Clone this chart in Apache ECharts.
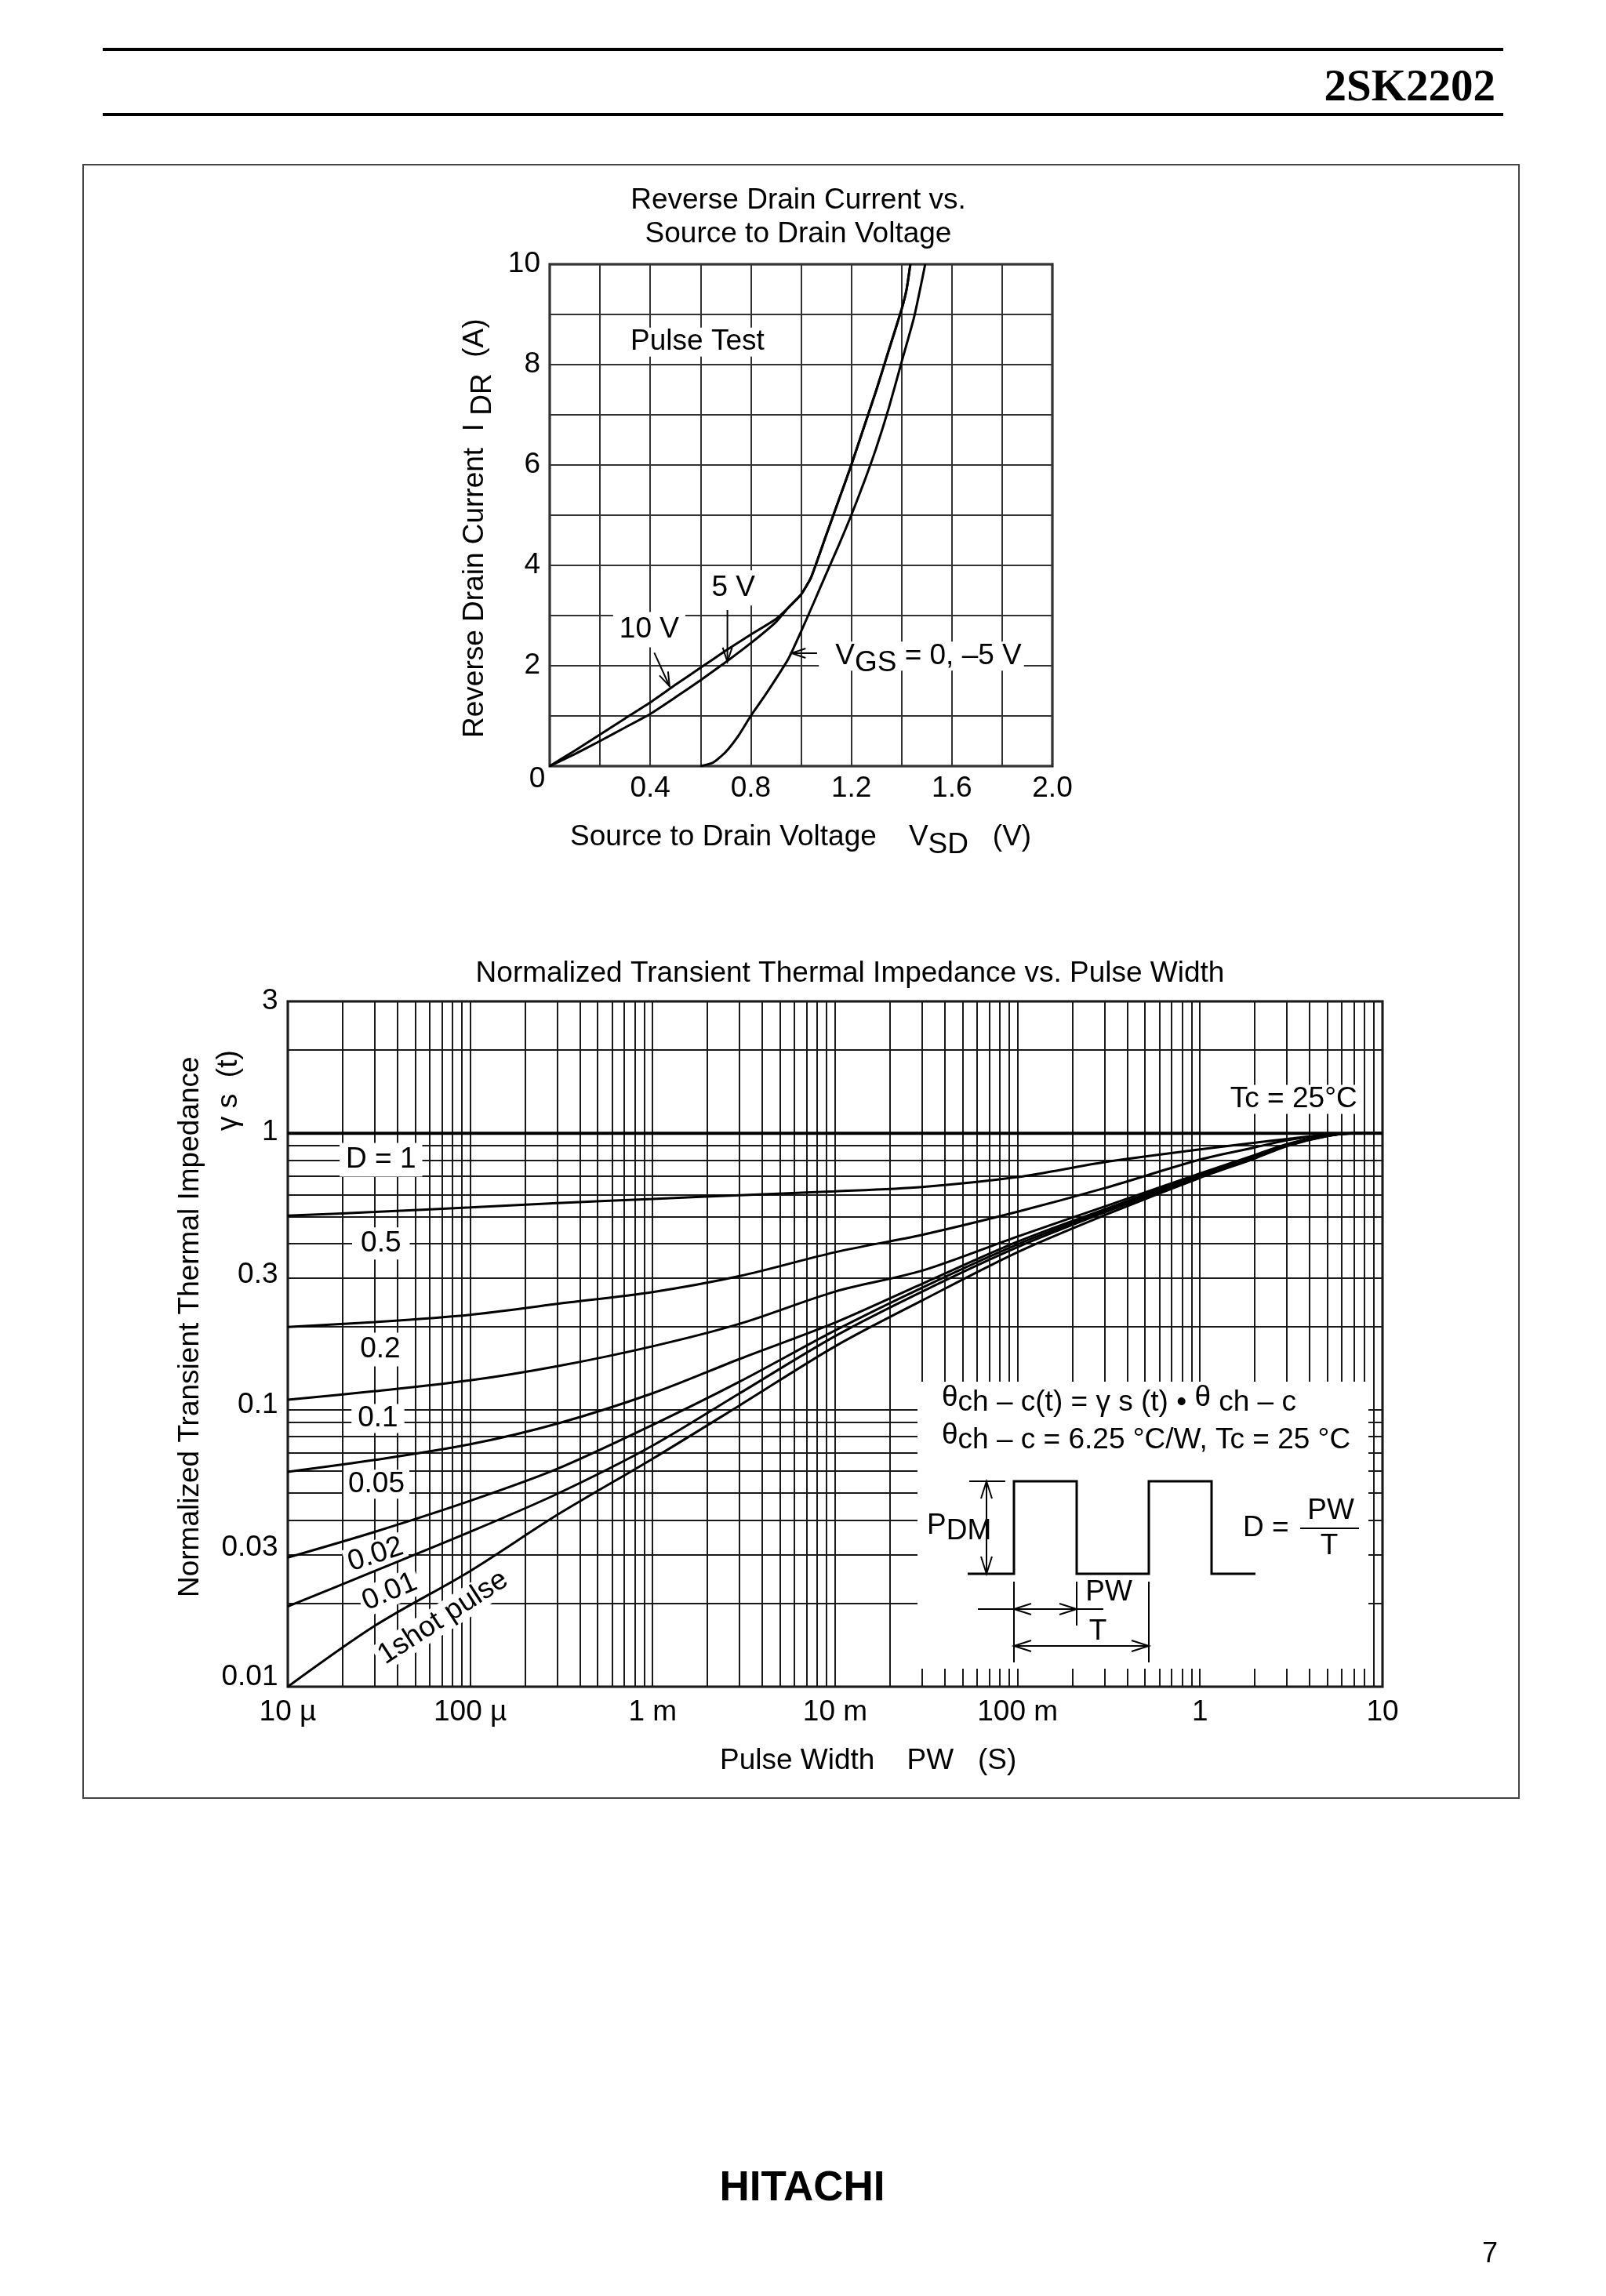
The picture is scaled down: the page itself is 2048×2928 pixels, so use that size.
<!DOCTYPE html>
<html><head><meta charset="utf-8">
<script src="https://cdn.jsdelivr.net/npm/echarts@6/dist/echarts.min.js"></script>
<style>html,body{margin:0;padding:0;background:#fff}#c{width:2048px;height:2928px}</style>
</head><body><div id="c"></div>
<script>
// ===== Chart 1: Reverse Drain Current vs. Source to Drain Voltage =====
const vsd10 = [0, 0.1, 0.2, 0.3, 0.4, 0.5, 0.6, 0.7, 0.8, 0.9, 0.95, 1.0, 1.04, 1.1, 1.15, 1.2, 1.25, 1.3, 1.35, 1.4, 1.42, 1.435];
const idr10 = [0, 0.31, 0.63, 0.95, 1.27, 1.62, 1.96, 2.3, 2.62, 2.93, 3.16, 3.42, 3.76, 4.6, 5.3, 6.0, 6.75, 7.5, 8.3, 9.1, 9.5, 10];
const vsd5  = [0, 0.1, 0.2, 0.3, 0.4, 0.5, 0.6, 0.7, 0.8, 0.9, 0.95, 1.0, 1.04, 1.1, 1.15, 1.2, 1.25, 1.3, 1.35, 1.4, 1.42, 1.435];
const idr5  = [0, 0.24, 0.5, 0.77, 1.04, 1.37, 1.71, 2.07, 2.45, 2.87, 3.16, 3.42, 3.76, 4.6, 5.3, 6.0, 6.75, 7.5, 8.3, 9.1, 9.5, 10];
const vsd0  = [0.6, 0.65, 0.7, 0.75, 0.8, 0.85, 0.9, 0.95, 1.0, 1.05, 1.1, 1.15, 1.2, 1.25, 1.3, 1.35, 1.4, 1.45, 1.494];
const idr0  = [0, 0.07, 0.28, 0.6, 1.0, 1.36, 1.74, 2.14, 2.68, 3.25, 3.83, 4.4, 5.0, 5.65, 6.35, 7.15, 8.05, 8.95, 10];
const vsdTicks = [0.4, 0.8, 1.2, 1.6, 2.0];
const vsdTickLabels = ['0.4', '0.8', '1.2', '1.6', '2.0'];
const idrTicks = [2, 4, 6, 8, 10];
const idrTickLabels = ['2', '4', '6', '8', '10'];

// ===== Chart 2: Normalized Transient Thermal Impedance vs. Pulse Width =====
const pw     = [1e-5, 3e-5, 1e-4, 3e-4, 1e-3, 3e-3, 1e-2, 3e-2, 0.1, 0.3, 1, 2, 3, 5, 7, 10];
const gD1    = [1, 1];
const pwD1   = [1e-5, 10];
const gD05   = [0.504, 0.52, 0.54, 0.56, 0.579, 0.598, 0.617, 0.64, 0.695, 0.787, 0.875, 0.925, 0.955, 0.99, 1, 1];
const gD02   = [0.1995, 0.208, 0.221, 0.242, 0.267, 0.305, 0.372, 0.43, 0.521, 0.634, 0.804, 0.89, 0.945, 0.99, 1, 1];
const gD01   = [0.109, 0.117, 0.128, 0.144, 0.17, 0.205, 0.268, 0.319, 0.424, 0.544, 0.717, 0.835, 0.915, 0.985, 1, 1];
const gD005  = [0.0598, 0.066, 0.0752, 0.0893, 0.115, 0.153, 0.207, 0.286, 0.406, 0.532, 0.709, 0.828, 0.912, 0.983, 1, 1];
const gD002  = [0.0293, 0.0363, 0.047, 0.0613, 0.0884, 0.1267, 0.194, 0.277, 0.397, 0.524, 0.703, 0.823, 0.908, 0.981, 1, 1];
const gD001  = [0.0195, 0.0262, 0.0363, 0.0498, 0.0744, 0.115, 0.185, 0.268, 0.388, 0.518, 0.698, 0.818, 0.905, 0.98, 1, 1];
const g1shot = [0.01, 0.0166, 0.0262, 0.0418, 0.0667, 0.104, 0.17, 0.249, 0.372, 0.506, 0.691, 0.812, 0.9, 0.978, 1, 1];
const pwTickVals   = [1e-5, 1e-4, 1e-3, 1e-2, 1e-1, 1, 10];
const pwTickLabels = ['10 µ', '100 µ', '1 m', '10 m', '100 m', '1', '10'];
const gTickVals    = [0.01, 0.03, 0.1, 0.3, 1, 3];
const gTickLabels  = ['0.01', '0.03', '0.1', '0.3', '1', '3'];

// log grid-line values (1..9 per decade)
const pwGrid = []; for (let e = -5; e <= 0; e++) for (let m = 1; m <= 9; m++) pwGrid.push(m * Math.pow(10, e)); pwGrid.push(10);
const gGrid = []; for (let e = -2; e <= -1; e++) for (let m = 1; m <= 9; m++) gGrid.push(m * Math.pow(10, e)); gGrid.push(1, 2, 3);

// ===== styling / layout =====
const FONT = '"Liberation Sans", Arial, Helvetica, sans-serif';
const SERIF = '"Liberation Serif", "Times New Roman", serif';
const FS = 37;
const gTickNudge = [-12, -9, -6, -4, -2, 0]; // vertical label nudges (px), as printed in the original
const LRICH = {
  n: {fontSize: FS, fontFamily: FONT, color: '#000', lineHeight: FS},
  s: {fontSize: FS, fontFamily: FONT, color: '#000', lineHeight: FS, padding: [18, 0, 0, 0]}
};
const GRICH = {
  n: {fontSize: FS, fontFamily: FONT, fill: '#000'},
  s: {fontSize: FS, fontFamily: FONT, fill: '#000', padding: [20, 0, 0, 0]},
  d: {fontSize: FS, fontFamily: FONT, fill: '#000', padding: [14, 0, 0, 0]},
  th: {fontSize: FS, fontFamily: FONT, fill: '#000', padding: [0, 0, 12, 0]},
  g: {fontSize: FS, fontFamily: FONT, fill: '#000'}
};

const topNotes = [
  {text: 'Pulse Test', at: [0.588, 8.45], pad: [0, 6, 0, 6]},
  {text: '10 V', at: [0.396, 2.72], pad: [4, 8, 4, 8]},
  {text: '5 V', at: [0.731, 3.55], pad: [4, 8, 4, 8]},
  {text: '{n|V}{s|GS}{n| = 0, –5 V}', at: [1.479, 2.19], pad: [0, 3, 0, 21]},
  {text: '0', at: [-0.05, -0.26], pad: 0, nobg: true}
];
const topArrows = [
  [0.416, 2.26, 0.477, 1.59],
  [0.707, 3.11, 0.707, 2.08],
  [1.064, 2.25, 0.962, 2.25]
];
const gNotes = [
  {text: 'D = 1', at: [3.24e-5, 0.803], pad: [3, 8, 3, 8]},
  {text: '0.5', at: [3.24e-5, 0.40], pad: [2, 11, 2, 11]},
  {text: '0.2', at: [3.21e-5, 0.1656], pad: [3, 8, 3, 8]},
  {text: '0.1', at: [3.12e-5, 0.0932], pad: [0, 8, 0, 8]},
  {text: '0.05', at: [3.06e-5, 0.0539], pad: [0, 6, 0, 6]},
  {text: '0.02', at: [3.03e-5, 0.0300], pad: [0, 4, 0, 4], rot: 18},
  {text: '0.01', at: [3.62e-5, 0.0220], pad: [0, 4, 0, 4], rot: 23},
  {text: '1shot pulse', at: [7.1e-5, 0.01778], pad: [0, 4, 0, 4], rot: 33},
  {text: 'Tc = 25°C', at: [3.26, 1.327], pad: [0, 4, 0, 4]}
];

function pairs(xs, ys) { return xs.map((x, i) => [x, ys[i]]); }
function curve(name, xi, xs, ys, w, sm) {
  return {type: 'line', name, xAxisIndex: xi, yAxisIndex: xi, data: pairs(xs, ys), symbol: 'none',
    smooth: sm, lineStyle: {color: '#000', width: w}, z: 10, silent: true, emphasis: {disabled: true}};
}
const HIDDEN = {color: 'rgba(0,0,0,0)', opacity: 1};
function noteSeries(xi, notes) {
  return {type: 'scatter', xAxisIndex: xi, yAxisIndex: xi, symbolSize: 1, clip: false, z: 8, silent: true,
    itemStyle: HIDDEN, emphasis: {disabled: true},
    data: notes.map(n => ({value: n.at, label: {
      show: true, position: 'inside', formatter: n.text, rotate: n.rot || 0, opacity: 1,
      fontSize: FS, fontFamily: FONT, color: '#000', lineHeight: FS,
      backgroundColor: n.nobg ? 'transparent' : '#fff', padding: n.pad, rich: LRICH
    }}))};
}
function tickSeries(vals, labels, toPoint, pos, dist, nudges) {
  return {type: 'scatter', xAxisIndex: 1, yAxisIndex: 1, symbolSize: 1, clip: false, z: 8, silent: true,
    itemStyle: HIDDEN, emphasis: {disabled: true},
    data: vals.map((v, i) => ({value: toPoint(v), label: {offset: [0, nudges ? nudges[i] : 0]}})),
    label: {show: true, position: pos, distance: dist, opacity: 1, formatter: p => labels[p.dataIndex],
      fontSize: FS, fontFamily: FONT, color: '#000', lineHeight: FS}};
}
function gridLines(vals, vertical) {
  return {type: 'custom', xAxisIndex: 1, yAxisIndex: 1, z: 1, silent: true,
    data: vals.map(v => vertical ? [v, 1] : [1e-3, v]),
    renderItem(params, api) {
      let a, b;
      if (vertical) { const x = api.value(0); a = api.coord([x, 0.01]); b = api.coord([x, 3]); }
      else { const y = api.value(1); a = api.coord([1e-5, y]); b = api.coord([10, y]); }
      return {type: 'line', shape: {x1: Math.round(a[0]), y1: Math.round(a[1]), x2: Math.round(b[0]), y2: Math.round(b[1])},
        style: {stroke: '#1a1a1a', lineWidth: 2}};
    }};
}
const arrowSeries = {type: 'custom', xAxisIndex: 0, yAxisIndex: 0, z: 12, silent: true, clip: false,
  data: topArrows,
  renderItem(params, api) {
    const a = api.coord([api.value(0), api.value(1)]);
    const b = api.coord([api.value(2), api.value(3)]);
    const dx = b[0] - a[0], dy = b[1] - a[1], L = Math.hypot(dx, dy), ux = dx / L, uy = dy / L;
    const hl = 18, hw = 6;
    const p1 = [b[0] - ux * hl - uy * hw, b[1] - uy * hl + ux * hw];
    const p2 = [b[0] - ux * hl + uy * hw, b[1] - uy * hl - ux * hw];
    return {type: 'group', children: [
      {type: 'line', shape: {x1: a[0], y1: a[1], x2: b[0], y2: b[1]}, style: {stroke: '#000', lineWidth: 2}},
      {type: 'polyline', shape: {points: [p1, b, p2]}, style: {stroke: '#000', lineWidth: 2, fill: null}}
    ]};
  }};

// ===== page graphics =====
function txt(x, y, text, o = {}) {
  return {type: 'text', x, y, rotation: o.rot || 0, z: o.z || 50, silent: true,
    style: {text, fontSize: o.size || FS, fontFamily: o.family || FONT, fontWeight: o.weight || 'normal', fill: '#000',
      align: o.align || 'center', textAlign: o.align || 'center', verticalAlign: 'middle', textVerticalAlign: 'middle',
      rich: o.rich}};
}
function seg(x1, y1, x2, y2, w, z) {
  return {type: 'line', z: z || 6, silent: true, shape: {x1, y1, x2, y2}, style: {stroke: '#000', lineWidth: w}};
}
function chev(tx, ty, ux, uy) {
  const hl = 22, hw = 7;
  return {type: 'polyline', z: 6, silent: true,
    shape: {points: [[tx - ux * hl - uy * hw, ty - uy * hl + ux * hw], [tx, ty], [tx - ux * hl + uy * hw, ty - uy * hl - ux * hw]]},
    style: {stroke: '#000', lineWidth: 2, fill: null}};
}
const graphics = [
  {type: 'rect', z: 0, silent: true, shape: {x: 106, y: 210, width: 1831, height: 2083}, style: {fill: 'none', stroke: '#444', lineWidth: 2}},
  seg(131, 63, 1917, 63, 4), seg(131, 146, 1917, 146, 4),
  txt(1907, 113, '2SK2202', {align: 'right', size: 57, weight: 'bold', family: SERIF}),
  txt(1023, 2791, 'HITACHI', {size: 53, weight: 'bold'}),
  txt(1900, 2875, '7', {size: 36}),
  // chart 1 texts
  txt(1018, 256, 'Reverse Drain Current vs.'),
  txt(1018, 299, 'Source to Drain Voltage'),
  txt(606, 941, '{n|Reverse Drain Current  I }{s|DR}{n|  (A)}', {align: 'left', rot: Math.PI / 2, rich: GRICH}),
  txt(727, 1068, '{n|Source to Drain Voltage    V}{s|SD}{n|   (V)}', {align: 'left', rich: GRICH}),
  // chart 2 texts
  txt(1084, 1242, 'Normalized Transient Thermal Impedance vs. Pulse Width'),
  txt(243, 2037, 'Normalized Transient Thermal Impedance', {align: 'left', rot: Math.PI / 2}),
  txt(292, 1442, 'γ s  (t)', {align: 'left', rot: Math.PI / 2}),
  txt(918, 2246, 'Pulse Width    PW   (S)', {align: 'left'}),
  // inset box
  {type: 'rect', z: 5, silent: true, shape: {x: 1170, y: 1762, width: 575, height: 366}, style: {fill: '#fff', stroke: null}},
  txt(1201, 1789, '{th|θ}{n|ch – c(t) = }{g|γ}{n| s (t) • }{th|θ}{n| ch – c}', {align: 'left', rich: GRICH, z: 7}),
  txt(1201, 1837, '{th|θ}{n|ch – c = 6.25 °C/W, Tc = 25 °C}', {align: 'left', rich: GRICH, z: 7}),
  {type: 'polyline', z: 6, silent: true, shape: {points: [[1234, 2007], [1293, 2007], [1293, 1889], [1373, 1889], [1373, 2007], [1465, 2007], [1465, 1889], [1545, 1889], [1545, 2007], [1601, 2007]]},
    style: {stroke: '#000', lineWidth: 3, fill: null}},
  seg(1236, 1889, 1282, 1889, 2), seg(1258, 1889, 1258, 2007, 2), chev(1258, 1889, 0, -1), chev(1258, 2007, 0, 1),
  txt(1182, 1946, '{n|P}{d|DM}', {align: 'left', rich: GRICH, z: 7}),
  seg(1293, 2017, 1293, 2120, 2), seg(1373, 2017, 1373, 2073, 2), seg(1465, 2017, 1465, 2120, 2),
  seg(1247, 2052, 1407, 2052, 2), chev(1293, 2052, -1, 0), chev(1373, 2052, 1, 0),
  seg(1293, 2099, 1465, 2099, 2), chev(1293, 2099, -1, 0), chev(1465, 2099, 1, 0),
  txt(1414, 2031, 'PW', {z: 7}), txt(1400, 2081, 'T', {z: 7}),
  txt(1585, 1949, 'D =', {align: 'left', z: 7}),
  seg(1658, 1949, 1733, 1949, 2), txt(1697, 1927, 'PW', {z: 7}), txt(1695, 1972, 'T', {z: 7})
];

const chart = echarts.init(document.getElementById('c'), null, {renderer: 'canvas', width: 2048, height: 2928});
chart.setOption({
  animation: false,
  backgroundColor: '#fff',
  grid: [
    {left: 701, top: 337, width: 641, height: 640, show: true, borderColor: '#000', borderWidth: 3, backgroundColor: 'transparent'},
    {left: 367, top: 1277, width: 1396, height: 874, show: true, borderColor: '#000', borderWidth: 3, backgroundColor: 'transparent'}
  ],
  xAxis: [
    {type: 'value', gridIndex: 0, min: 0, max: 2, interval: 0.2, axisLine: {show: false}, axisTick: {show: false},
      splitLine: {show: true, lineStyle: {color: '#333', width: 2}},
      axisLabel: {margin: 10, fontSize: FS, fontFamily: FONT, color: '#000', lineHeight: FS,
        formatter: v => { const i = vsdTicks.findIndex(t => Math.abs(t - v) < 1e-6); return i >= 0 ? vsdTickLabels[i] : ''; }}},
    {type: 'log', gridIndex: 1, logBase: 10, min: 1e-5, max: 10, axisLine: {show: false}, axisTick: {show: false},
      splitLine: {show: false}, axisLabel: {show: false}}
  ],
  yAxis: [
    {type: 'value', gridIndex: 0, min: 0, max: 10, interval: 1, axisLine: {show: false}, axisTick: {show: false},
      splitLine: {show: true, lineStyle: {color: '#333', width: 2}},
      axisLabel: {margin: 12, fontSize: FS, fontFamily: FONT, color: '#000',
        formatter: v => { const i = idrTicks.findIndex(t => Math.abs(t - v) < 1e-6); return i >= 0 ? idrTickLabels[i] : ''; }}},
    {type: 'log', gridIndex: 1, logBase: 10, min: 0.01, max: 3, axisLine: {show: false}, axisTick: {show: false},
      splitLine: {show: false}, axisLabel: {show: false}}
  ],
  graphic: {elements: graphics},
  series: [
    curve('VGS=10V', 0, vsd10, idr10, 3, 0.15),
    curve('VGS=5V', 0, vsd5, idr5, 3, 0.15),
    curve('VGS=0,-5V', 0, vsd0, idr0, 3, 0.2),
    arrowSeries,
    noteSeries(0, topNotes),
    gridLines(pwGrid, true),
    gridLines(gGrid, false),
    curve('D=1', 1, pwD1, gD1, 4, 0),
    curve('D=0.5', 1, pw, gD05, 3, 0.3),
    curve('D=0.2', 1, pw, gD02, 3, 0.3),
    curve('D=0.1', 1, pw, gD01, 3, 0.3),
    curve('D=0.05', 1, pw, gD005, 3, 0.3),
    curve('D=0.02', 1, pw, gD002, 3, 0.3),
    curve('D=0.01', 1, pw, gD001, 3, 0.3),
    curve('1shot', 1, pw, g1shot, 3, 0.3),
    noteSeries(1, gNotes),
    tickSeries(pwTickVals, pwTickLabels, v => [v, 0.01], 'bottom', 14, null),
    tickSeries(gTickVals, gTickLabels, v => [1e-5, v], 'left', 12, gTickNudge)
  ]
});
</script></body></html>
